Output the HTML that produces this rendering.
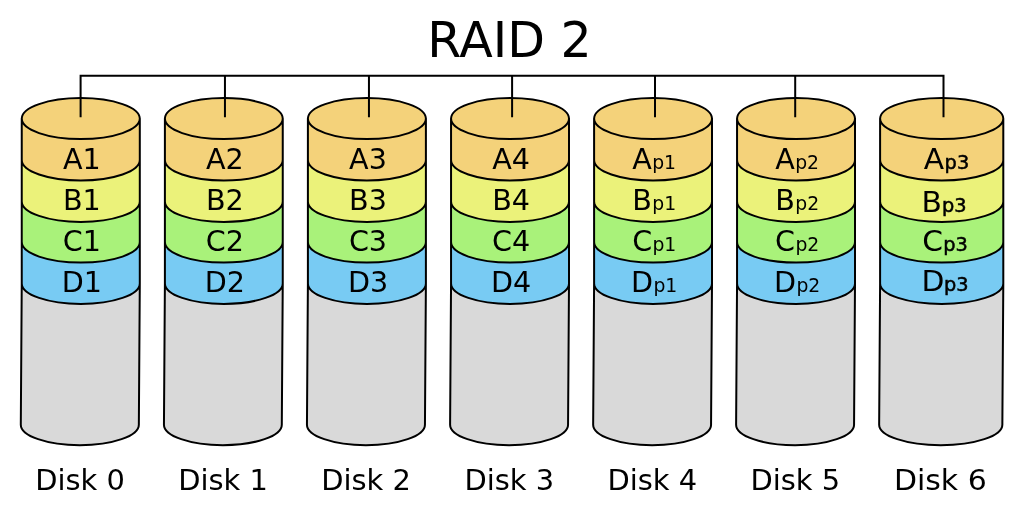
<!DOCTYPE html>
<html lang="en"><head><meta charset="utf-8"><title>RAID 2</title>
<style>
html,body{margin:0;padding:0;background:#fff;}
body{width:1024px;height:512px;overflow:hidden;}
svg{display:block;will-change:transform;}
text{font-family:"DejaVu Sans","Liberation Sans",sans-serif;fill:#000;}
.l{font-size:28.6px;text-anchor:middle;}
.d{font-size:28.9px;text-anchor:middle;}
.m{font-size:28.6px;text-anchor:start;}
.s{font-size:18.8px;}
.b{font-size:18.6px;stroke:#000;stroke-width:0.5px;}
.t{font-size:49px;text-anchor:middle;}
.k{stroke:#000;stroke-width:2;stroke-linejoin:round;}
</style></head><body>
<svg width="1024" height="512" viewBox="0 0 1024 512">
<rect width="1024" height="512" fill="#fff"/>
<text class="t" x="509.5" y="57.2">RAID 2</text>
<g>
<path fill="#d9d9d9" d="M21.75 118.60L21.75 283.40L20.80 424.65C20.800 435.972 47.226 445.150 79.825 445.150C112.424 445.150 138.850 435.972 138.850 424.650L139.80 283.40L139.80 118.60Z"/>
<path fill="#78cbf3" d="M21.75 118.60L21.75 283.40C21.750 294.722 48.176 303.900 80.775 303.900C113.374 303.900 139.800 294.722 139.800 283.400L139.80 118.60Z"/>
<path fill="#a9f27a" d="M21.75 118.60L21.75 242.10C21.750 253.422 48.176 262.600 80.775 262.600C113.374 262.600 139.800 253.422 139.800 242.100L139.80 118.60Z"/>
<path fill="#ebf27a" d="M21.75 118.60L21.75 201.40C21.750 212.722 48.176 221.900 80.775 221.900C113.374 221.900 139.800 212.722 139.800 201.400L139.80 118.60Z"/>
<path fill="#f4d27a" d="M21.75 118.60L21.75 160.00C21.750 171.322 48.176 180.500 80.775 180.500C113.374 180.500 139.800 171.322 139.800 160.000L139.80 118.60Z"/>
<path fill="#f4d27a" d="M21.75 118.60C21.750 107.278 48.176 98.100 80.775 98.100C113.374 98.100 139.800 107.278 139.800 118.600C139.800 129.922 113.374 139.100 80.775 139.100C48.176 139.100 21.750 129.922 21.750 118.600Z"/>
<path class="k" fill="none" d="M21.75 118.60C21.750 107.278 48.176 98.100 80.775 98.100C113.374 98.100 139.800 107.278 139.800 118.600L139.80 283.40L138.85 424.65C138.850 435.972 112.424 445.150 79.825 445.150C47.226 445.150 20.800 435.972 20.800 424.650L21.75 283.40ZM21.75 118.60C21.750 129.922 48.176 139.100 80.775 139.100C113.374 139.100 139.800 129.922 139.800 118.600M21.75 160.00C21.750 171.322 48.176 180.500 80.775 180.500C113.374 180.500 139.800 171.322 139.800 160.000M21.75 201.40C21.750 212.722 48.176 221.900 80.775 221.900C113.374 221.900 139.800 212.722 139.800 201.400M21.75 242.10C21.750 253.422 48.176 262.600 80.775 262.600C113.374 262.600 139.800 253.422 139.800 242.100M21.75 283.40C21.750 294.722 48.176 303.900 80.775 303.900C113.374 303.900 139.800 294.722 139.800 283.400"/>
<text class="l" x="81.88" y="168.90">A1</text>
<text class="l" x="81.88" y="209.97">B1</text>
<text class="l" x="81.88" y="251.04">C1</text>
<text class="l" x="81.88" y="292.11">D1</text>
<text class="d" x="79.98" y="489.70">Disk 0</text>
</g>
<g>
<path fill="#d9d9d9" d="M164.90 118.60L164.90 283.40L163.95 424.65C163.950 435.972 190.332 445.150 222.875 445.150C255.418 445.150 281.800 435.972 281.800 424.650L282.75 283.40L282.75 118.60Z"/>
<path fill="#78cbf3" d="M164.90 118.60L164.90 283.40C164.900 294.722 191.282 303.900 223.825 303.900C256.368 303.900 282.750 294.722 282.750 283.400L282.75 118.60Z"/>
<path fill="#a9f27a" d="M164.90 118.60L164.90 242.10C164.900 253.422 191.282 262.600 223.825 262.600C256.368 262.600 282.750 253.422 282.750 242.100L282.75 118.60Z"/>
<path fill="#ebf27a" d="M164.90 118.60L164.90 201.40C164.900 212.722 191.282 221.900 223.825 221.900C256.368 221.900 282.750 212.722 282.750 201.400L282.75 118.60Z"/>
<path fill="#f4d27a" d="M164.90 118.60L164.90 160.00C164.900 171.322 191.282 180.500 223.825 180.500C256.368 180.500 282.750 171.322 282.750 160.000L282.75 118.60Z"/>
<path fill="#f4d27a" d="M164.90 118.60C164.900 107.278 191.282 98.100 223.825 98.100C256.368 98.100 282.750 107.278 282.750 118.600C282.750 129.922 256.368 139.100 223.825 139.100C191.282 139.100 164.900 129.922 164.900 118.600Z"/>
<path class="k" fill="none" d="M164.90 118.60C164.900 107.278 191.282 98.100 223.825 98.100C256.368 98.100 282.750 107.278 282.750 118.600L282.75 283.40L281.80 424.65C281.800 435.972 255.418 445.150 222.875 445.150C190.332 445.150 163.950 435.972 163.950 424.650L164.90 283.40ZM164.90 118.60C164.900 129.922 191.282 139.100 223.825 139.100C256.368 139.100 282.750 129.922 282.750 118.600M164.90 160.00C164.900 171.322 191.282 180.500 223.825 180.500C256.368 180.500 282.750 171.322 282.750 160.000M164.90 201.40C164.900 212.722 191.282 221.900 223.825 221.900C256.368 221.900 282.750 212.722 282.750 201.400M164.90 242.10C164.900 253.422 191.282 262.600 223.825 262.600C256.368 262.600 282.750 253.422 282.750 242.100M164.90 283.40C164.900 294.722 191.282 303.900 223.825 303.900C256.368 303.900 282.750 294.722 282.750 283.400"/>
<text class="l" x="224.92" y="168.90">A2</text>
<text class="l" x="224.92" y="209.97">B2</text>
<text class="l" x="224.92" y="251.04">C2</text>
<text class="l" x="224.92" y="292.11">D2</text>
<text class="d" x="223.02" y="489.70">Disk 1</text>
</g>
<g>
<path fill="#d9d9d9" d="M307.90 118.60L307.90 283.40L306.95 424.65C306.950 435.972 333.365 445.150 365.950 445.150C398.535 445.150 424.950 435.972 424.950 424.650L425.90 283.40L425.90 118.60Z"/>
<path fill="#78cbf3" d="M307.90 118.60L307.90 283.40C307.900 294.722 334.315 303.900 366.900 303.900C399.485 303.900 425.900 294.722 425.900 283.400L425.90 118.60Z"/>
<path fill="#a9f27a" d="M307.90 118.60L307.90 242.10C307.900 253.422 334.315 262.600 366.900 262.600C399.485 262.600 425.900 253.422 425.900 242.100L425.90 118.60Z"/>
<path fill="#ebf27a" d="M307.90 118.60L307.90 201.40C307.900 212.722 334.315 221.900 366.900 221.900C399.485 221.900 425.900 212.722 425.900 201.400L425.90 118.60Z"/>
<path fill="#f4d27a" d="M307.90 118.60L307.90 160.00C307.900 171.322 334.315 180.500 366.900 180.500C399.485 180.500 425.900 171.322 425.900 160.000L425.90 118.60Z"/>
<path fill="#f4d27a" d="M307.90 118.60C307.900 107.278 334.315 98.100 366.900 98.100C399.485 98.100 425.900 107.278 425.900 118.600C425.900 129.922 399.485 139.100 366.900 139.100C334.315 139.100 307.900 129.922 307.900 118.600Z"/>
<path class="k" fill="none" d="M307.90 118.60C307.900 107.278 334.315 98.100 366.900 98.100C399.485 98.100 425.900 107.278 425.900 118.600L425.90 283.40L424.95 424.65C424.950 435.972 398.535 445.150 365.950 445.150C333.365 445.150 306.950 435.972 306.950 424.650L307.90 283.40ZM307.90 118.60C307.900 129.922 334.315 139.100 366.900 139.100C399.485 139.100 425.900 129.922 425.900 118.600M307.90 160.00C307.900 171.322 334.315 180.500 366.900 180.500C399.485 180.500 425.900 171.322 425.900 160.000M307.90 201.40C307.900 212.722 334.315 221.900 366.900 221.900C399.485 221.900 425.900 212.722 425.900 201.400M307.90 242.10C307.900 253.422 334.315 262.600 366.900 262.600C399.485 262.600 425.900 253.422 425.900 242.100M307.90 283.40C307.900 294.722 334.315 303.900 366.900 303.900C399.485 303.900 425.900 294.722 425.900 283.400"/>
<text class="l" x="368.00" y="168.90">A3</text>
<text class="l" x="368.00" y="209.97">B3</text>
<text class="l" x="368.00" y="251.04">C3</text>
<text class="l" x="368.00" y="292.11">D3</text>
<text class="d" x="366.10" y="489.70">Disk 2</text>
</g>
<g>
<path fill="#d9d9d9" d="M451.05 118.60L451.05 283.40L450.10 424.65C450.100 435.972 476.504 445.150 509.075 445.150C541.646 445.150 568.050 435.972 568.050 424.650L569.00 283.40L569.00 118.60Z"/>
<path fill="#78cbf3" d="M451.05 118.60L451.05 283.40C451.050 294.722 477.454 303.900 510.025 303.900C542.596 303.900 569.000 294.722 569.000 283.400L569.00 118.60Z"/>
<path fill="#a9f27a" d="M451.05 118.60L451.05 242.10C451.050 253.422 477.454 262.600 510.025 262.600C542.596 262.600 569.000 253.422 569.000 242.100L569.00 118.60Z"/>
<path fill="#ebf27a" d="M451.05 118.60L451.05 201.40C451.050 212.722 477.454 221.900 510.025 221.900C542.596 221.900 569.000 212.722 569.000 201.400L569.00 118.60Z"/>
<path fill="#f4d27a" d="M451.05 118.60L451.05 160.00C451.050 171.322 477.454 180.500 510.025 180.500C542.596 180.500 569.000 171.322 569.000 160.000L569.00 118.60Z"/>
<path fill="#f4d27a" d="M451.05 118.60C451.050 107.278 477.454 98.100 510.025 98.100C542.596 98.100 569.000 107.278 569.000 118.600C569.000 129.922 542.596 139.100 510.025 139.100C477.454 139.100 451.050 129.922 451.050 118.600Z"/>
<path class="k" fill="none" d="M451.05 118.60C451.050 107.278 477.454 98.100 510.025 98.100C542.596 98.100 569.000 107.278 569.000 118.600L569.00 283.40L568.05 424.65C568.050 435.972 541.646 445.150 509.075 445.150C476.504 445.150 450.100 435.972 450.100 424.650L451.05 283.40ZM451.05 118.60C451.050 129.922 477.454 139.100 510.025 139.100C542.596 139.100 569.000 129.922 569.000 118.600M451.05 160.00C451.050 171.322 477.454 180.500 510.025 180.500C542.596 180.500 569.000 171.322 569.000 160.000M451.05 201.40C451.050 212.722 477.454 221.900 510.025 221.900C542.596 221.900 569.000 212.722 569.000 201.400M451.05 242.10C451.050 253.422 477.454 262.600 510.025 262.600C542.596 262.600 569.000 253.422 569.000 242.100M451.05 283.40C451.050 294.722 477.454 303.900 510.025 303.900C542.596 303.900 569.000 294.722 569.000 283.400"/>
<text class="l" x="511.12" y="168.90">A4</text>
<text class="l" x="511.12" y="209.97">B4</text>
<text class="l" x="511.12" y="251.04">C4</text>
<text class="l" x="511.12" y="292.11">D4</text>
<text class="d" x="509.22" y="489.70">Disk 3</text>
</g>
<g>
<path fill="#d9d9d9" d="M594.10 118.60L594.10 283.40L593.15 424.65C593.150 435.972 619.543 445.150 652.100 445.150C684.657 445.150 711.050 435.972 711.050 424.650L712.00 283.40L712.00 118.60Z"/>
<path fill="#78cbf3" d="M594.10 118.60L594.10 283.40C594.100 294.722 620.493 303.900 653.050 303.900C685.607 303.900 712.000 294.722 712.000 283.400L712.00 118.60Z"/>
<path fill="#a9f27a" d="M594.10 118.60L594.10 242.10C594.100 253.422 620.493 262.600 653.050 262.600C685.607 262.600 712.000 253.422 712.000 242.100L712.00 118.60Z"/>
<path fill="#ebf27a" d="M594.10 118.60L594.10 201.40C594.100 212.722 620.493 221.900 653.050 221.900C685.607 221.900 712.000 212.722 712.000 201.400L712.00 118.60Z"/>
<path fill="#f4d27a" d="M594.10 118.60L594.10 160.00C594.100 171.322 620.493 180.500 653.050 180.500C685.607 180.500 712.000 171.322 712.000 160.000L712.00 118.60Z"/>
<path fill="#f4d27a" d="M594.10 118.60C594.100 107.278 620.493 98.100 653.050 98.100C685.607 98.100 712.000 107.278 712.000 118.600C712.000 129.922 685.607 139.100 653.050 139.100C620.493 139.100 594.100 129.922 594.100 118.600Z"/>
<path class="k" fill="none" d="M594.10 118.60C594.100 107.278 620.493 98.100 653.050 98.100C685.607 98.100 712.000 107.278 712.000 118.600L712.00 283.40L711.05 424.65C711.050 435.972 684.657 445.150 652.100 445.150C619.543 445.150 593.150 435.972 593.150 424.650L594.10 283.40ZM594.10 118.60C594.100 129.922 620.493 139.100 653.050 139.100C685.607 139.100 712.000 129.922 712.000 118.600M594.10 160.00C594.100 171.322 620.493 180.500 653.050 180.500C685.607 180.500 712.000 171.322 712.000 160.000M594.10 201.40C594.100 212.722 620.493 221.900 653.050 221.900C685.607 221.900 712.000 212.722 712.000 201.400M594.10 242.10C594.100 253.422 620.493 262.600 653.050 262.600C685.607 262.600 712.000 253.422 712.000 242.100M594.10 283.40C594.100 294.722 620.493 303.900 653.050 303.900C685.607 303.900 712.000 294.722 712.000 283.400"/>
<text class="m" x="632.35" y="168.90">A<tspan class="s" x="652.21">p1</tspan></text>
<text class="m" x="632.32" y="209.97">B<tspan class="s" x="652.24">p1</tspan></text>
<text class="m" x="632.15" y="251.04">C<tspan class="s" x="652.41">p1</tspan></text>
<text class="m" x="631.11" y="292.11">D<tspan class="s" x="653.45">p1</tspan></text>
<text class="d" x="652.25" y="489.70">Disk 4</text>
</g>
<g>
<path fill="#d9d9d9" d="M737.05 118.60L737.05 283.40L736.10 424.65C736.100 435.972 762.504 445.150 795.075 445.150C827.646 445.150 854.050 435.972 854.050 424.650L855.00 283.40L855.00 118.60Z"/>
<path fill="#78cbf3" d="M737.05 118.60L737.05 283.40C737.050 294.722 763.454 303.900 796.025 303.900C828.596 303.900 855.000 294.722 855.000 283.400L855.00 118.60Z"/>
<path fill="#a9f27a" d="M737.05 118.60L737.05 242.10C737.050 253.422 763.454 262.600 796.025 262.600C828.596 262.600 855.000 253.422 855.000 242.100L855.00 118.60Z"/>
<path fill="#ebf27a" d="M737.05 118.60L737.05 201.40C737.050 212.722 763.454 221.900 796.025 221.900C828.596 221.900 855.000 212.722 855.000 201.400L855.00 118.60Z"/>
<path fill="#f4d27a" d="M737.05 118.60L737.05 160.00C737.050 171.322 763.454 180.500 796.025 180.500C828.596 180.500 855.000 171.322 855.000 160.000L855.00 118.60Z"/>
<path fill="#f4d27a" d="M737.05 118.60C737.050 107.278 763.454 98.100 796.025 98.100C828.596 98.100 855.000 107.278 855.000 118.600C855.000 129.922 828.596 139.100 796.025 139.100C763.454 139.100 737.050 129.922 737.050 118.600Z"/>
<path class="k" fill="none" d="M737.05 118.60C737.050 107.278 763.454 98.100 796.025 98.100C828.596 98.100 855.000 107.278 855.000 118.600L855.00 283.40L854.05 424.65C854.050 435.972 827.646 445.150 795.075 445.150C762.504 445.150 736.100 435.972 736.100 424.650L737.05 283.40ZM737.05 118.60C737.050 129.922 763.454 139.100 796.025 139.100C828.596 139.100 855.000 129.922 855.000 118.600M737.05 160.00C737.050 171.322 763.454 180.500 796.025 180.500C828.596 180.500 855.000 171.322 855.000 160.000M737.05 201.40C737.050 212.722 763.454 221.900 796.025 221.900C828.596 221.900 855.000 212.722 855.000 201.400M737.05 242.10C737.050 253.422 763.454 262.600 796.025 262.600C828.596 262.600 855.000 253.422 855.000 242.100M737.05 283.40C737.050 294.722 763.454 303.900 796.025 303.900C828.596 303.900 855.000 294.722 855.000 283.400"/>
<text class="m" x="775.32" y="168.90">A<tspan class="s" x="795.19">p2</tspan></text>
<text class="m" x="775.29" y="209.97">B<tspan class="s" x="795.22">p2</tspan></text>
<text class="m" x="775.12" y="251.04">C<tspan class="s" x="795.39">p2</tspan></text>
<text class="m" x="774.09" y="292.11">D<tspan class="s" x="796.42">p2</tspan></text>
<text class="d" x="795.23" y="489.70">Disk 5</text>
</g>
<g>
<path fill="#d9d9d9" d="M880.10 118.60L880.10 283.40L879.15 424.65C879.150 435.972 906.729 445.150 940.750 445.150C974.771 445.150 1002.350 435.972 1002.350 424.650L1003.30 283.40L1003.30 118.60Z"/>
<path fill="#78cbf3" d="M880.10 118.60L880.10 283.40C880.100 294.722 907.679 303.900 941.700 303.900C975.721 303.900 1003.300 294.722 1003.300 283.400L1003.30 118.60Z"/>
<path fill="#a9f27a" d="M880.10 118.60L880.10 242.10C880.100 253.422 907.679 262.600 941.700 262.600C975.721 262.600 1003.300 253.422 1003.300 242.100L1003.30 118.60Z"/>
<path fill="#ebf27a" d="M880.10 118.60L880.10 201.40C880.100 212.722 907.679 221.900 941.700 221.900C975.721 221.900 1003.300 212.722 1003.300 201.400L1003.30 118.60Z"/>
<path fill="#f4d27a" d="M880.10 118.60L880.10 160.00C880.100 171.322 907.679 180.500 941.700 180.500C975.721 180.500 1003.300 171.322 1003.300 160.000L1003.30 118.60Z"/>
<path fill="#f4d27a" d="M880.10 118.60C880.100 107.278 907.679 98.100 941.700 98.100C975.721 98.100 1003.300 107.278 1003.300 118.600C1003.300 129.922 975.721 139.100 941.700 139.100C907.679 139.100 880.100 129.922 880.100 118.600Z"/>
<path class="k" fill="none" d="M880.10 118.60C880.100 107.278 907.679 98.100 941.700 98.100C975.721 98.100 1003.300 107.278 1003.300 118.600L1003.30 283.40L1002.35 424.65C1002.350 435.972 974.771 445.150 940.750 445.150C906.729 445.150 879.150 435.972 879.150 424.650L880.10 283.40ZM880.10 118.60C880.100 129.922 907.679 139.100 941.700 139.100C975.721 139.100 1003.300 129.922 1003.300 118.600M880.10 160.00C880.100 171.322 907.679 180.500 941.700 180.500C975.721 180.500 1003.300 171.322 1003.300 160.000M880.10 201.40C880.100 212.722 907.679 221.900 941.700 221.900C975.721 221.900 1003.300 212.722 1003.300 201.400M880.10 242.10C880.100 253.422 907.679 262.600 941.700 262.600C975.721 262.600 1003.300 253.422 1003.300 242.100M880.10 283.40C880.100 294.722 907.679 303.900 941.700 303.900C975.721 303.900 1003.300 294.722 1003.300 283.400"/>
<text class="m" transform="translate(923.70 168.90) scale(1.04 1)" x="0" y="0">A<tspan class="s b" x="20.11">p3</tspan></text>
<text class="m" transform="translate(921.57 211.92) scale(1.04 1)" x="0" y="0">B<tspan class="s b" x="19.54">p3</tspan></text>
<text class="m" transform="translate(922.35 250.54) scale(1.04 1)" x="0" y="0">C<tspan class="s b" x="20.11">p3</tspan></text>
<text class="m" transform="translate(921.51 291.17) scale(1.04 1)" x="0" y="0">D<tspan class="s b" x="21.62">p3</tspan></text>
<text class="d" transform="translate(940.30 490.00) scale(1.035 1)" x="0" y="0">Disk 6</text>
</g>
<path d="M80.60 117.2V75.8H943.50V117.2M224.95 75.8V117.2M368.95 75.8V117.2M512.10 75.8V117.2M655.00 75.8V117.2M795.20 75.8V117.2" fill="none" stroke="#000" stroke-width="2" stroke-linecap="butt" stroke-linejoin="miter"/>
</svg>
</body></html>
